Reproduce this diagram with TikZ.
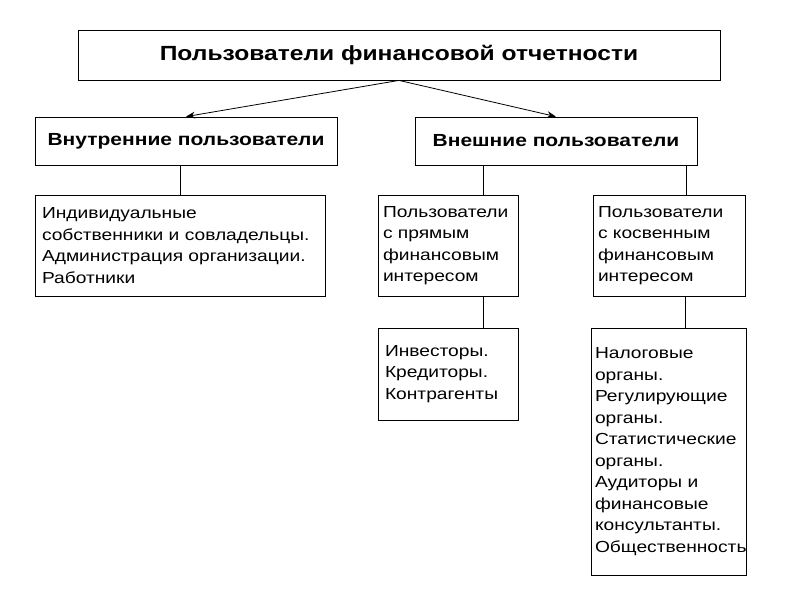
\documentclass[tikz,border=0pt]{standalone}
\usepackage{fontspec}
\setmainfont[FakeStretch=1.2]{Liberation Sans}
\usetikzlibrary{arrows.meta}

\tikzset{
  box/.style={draw, thick, rectangle, inner sep=0pt},
  head/.style={box, font=\fontsize{17.5}{20}\selectfont\bfseries},
  list/.style={box, font=\fontsize{16}{21.5}\selectfont, align=left},
}

\begin{document}
\begin{tikzpicture}[x=1pt, y=-1pt]

        \useasboundingbox (0,0) rectangle (788,608);

        % top level
        \node [head, font=\fontsize{20.5}{24}\selectfont\bfseries, minimum width=642pt, minimum height=50pt] (users) at (399,55) {Пользователи финансовой отчетности};

        \node [head, minimum width=302pt, minimum height=48pt] (inner) at (186,141) {Внутренние пользователи};
        \node [head, minimum width=282pt, minimum height=48pt] (outer) at (556,141) {Внешние пользователи};

        \draw [thick, -{Stealth[length=9pt]}] (users.south) -- (inner.north);
        \draw [thick, -{Stealth[length=9pt]}] (users.south) -- (outer.north);

        % second level
        \node [list, minimum width=290pt, minimum height=101pt, text width=276pt] (owners) at (180,245.5)
              {Индивидуальные\\собственники и совладельцы.\\Администрация организации.\\Работники};
        \node [list, minimum width=140pt, minimum height=101pt, text width=130pt] (direct) at (448,245.5)
              {Пользователи\\с прямым\\финансовым\\интересом};
        \node [list, minimum width=152pt, minimum height=101pt, text width=142pt] (indirect) at (669,245.5)
              {Пользователи\\с косвенным\\финансовым\\интересом};

        \draw [thick] (owners.north) -- (owners.north |- inner.south);
        \draw [thick] (483,195) coordinate (d1) -- (d1 |- outer.south);
        \draw [thick] (686,195) coordinate (i1) -- (i1 |- outer.south);

        % third level
        \node [list, minimum width=140pt, minimum height=92pt, text width=126pt] (investors) at (448,374)
              {Инвесторы.\\Кредиторы.\\Контрагенты};
        \node [list, minimum width=155pt, minimum height=247pt, text width=147pt] (agencies) at (668.5,451.5)
              {Налоговые\\органы.\\Регулирующие\\органы.\\Статистические\\органы.\\Аудиторы и\\финансовые\\консультанты.\\Общественность};

        \draw [thick] (483,328) coordinate (d2) -- (d2 |- direct.south);
        \draw [thick] (685,328) coordinate (i2) -- (i2 |- indirect.south);

\end{tikzpicture}
\end{document}
